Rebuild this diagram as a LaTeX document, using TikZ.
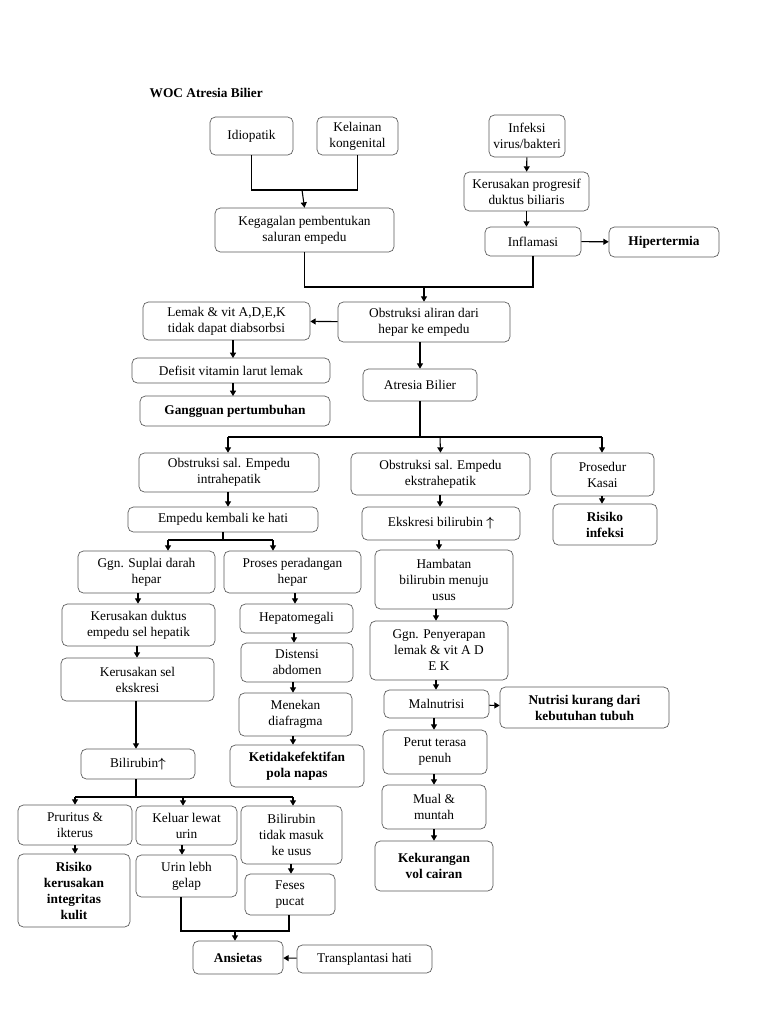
\documentclass[tikz,border=0pt]{standalone}
\usepackage{amsmath,amssymb}
\usepackage{fontspec}
\setmainfont{Liberation Serif}
\usepackage{tikz}
\usetikzlibrary{arrows.meta}

\newcommand{\wocbox}[7][]{%
  \node[BoxStyle,#1,
    minimum width  = {(#5-#3)*0.75pt},
    minimum height = {(#6-#4)*0.75pt}]
    (#2) at ({(#3+#5)/2},{(#4+#6)/2}) {#7};}

\begin{document}
\begin{tikzpicture}[x=0.75pt,y=-0.75pt]
  \tikzset{BoxStyle/.style = {
    shape          = rectangle,
    rounded corners= 4pt,
    draw           = black!65,
    fill           = white,
    line width     = 0.5pt,
    text           = black,
    align          = center,
    inner sep      = 1pt,
    font           = \fontsize{10}{12}\selectfont
    }
  }
  \tikzset{BoldStyle/.style = {font = \fontsize{10}{12}\selectfont\bfseries}}
  \tikzset{ArrowStyle/.style = {
    draw       = black,
    line width = 0.8pt,
    -{Triangle[length=4pt,width=4.5pt]}
    }
  }
  \tikzset{LineStyle/.style = {draw = black, line width = 0.8pt}}

  \useasboundingbox (0,0) rectangle (768,1024);
  \node[font=\fontsize{10}{12}\selectfont\bfseries, anchor=west] (title) at (145,93) {WOC Atresia Bilier};

  % top part
  \wocbox{idio}{210}{117}{293}{155}{Idiopatik}
  \wocbox{kong}{317}{117}{398}{155}{Kelainan\\kongenital}
  \wocbox{infek}{489}{115}{565}{157}{Infeksi\\virus/bakteri}
  \wocbox{progr}{464}{172}{589}{211}{Kerusakan progresif\\duktus biliaris}
  \wocbox{gagal}{215}{208}{394}{252}{Kegagalan pembentukan\\saluran empedu}
  \wocbox{infl}{485}{227}{581}{256}{Inflamasi}
  \wocbox[BoldStyle]{hiper}{609}{227}{719}{257}{Hipertermia}
  \wocbox{lemak}{143}{302}{310}{340}{Lemak \& vit A,D,E,K\\tidak dapat diabsorbsi}
  \wocbox{obs}{338}{302}{510}{342}{Obstruksi aliran dari\\hepar ke empedu}
  \wocbox{defisit}{132}{358}{330}{383}{Defisit vitamin larut lemak}
  \wocbox{atresia}{363}{369}{477}{401}{Atresia Bilier}
  \wocbox[BoldStyle]{tumbuh}{140}{396}{330}{426}{Gangguan pertumbuhan}

  % three branches
  \wocbox{intra}{139}{453}{319}{492}{Obstruksi sal. Empedu\\intrahepatik}
  \wocbox{ekstra}{351}{453}{530}{495}{Obstruksi sal. Empedu\\ekstrahepatik}
  \wocbox{kasai}{551}{453}{654}{496}{Prosedur\\Kasai}
  \wocbox{kembali}{128}{507}{318}{532}{Empedu kembali ke hati}
  \wocbox{ekskresi}{362}{507}{520}{540}{Ekskresi bilirubin $\boldsymbol{\uparrow}$}
  \wocbox[BoldStyle]{infeksi}{553}{504}{657}{545}{Risiko\\infeksi}

  % left column
  \wocbox{suplai}{78}{551}{215}{593}{Ggn. Suplai darah\\hepar}
  \wocbox{radang}{224}{551}{361}{593}{Proses peradangan\\hepar}
  \wocbox{duktus}{62}{604}{215}{646}{Kerusakan duktus\\empedu sel hepatik}
  \wocbox{hepato}{240}{604}{353}{633}{Hepatomegali}
  \wocbox{selek}{61}{658}{214}{701}{Kerusakan sel\\ekskresi}
  \wocbox{distensi}{241}{643}{353}{682}{Distensi\\abdomen}
  \wocbox{menekan}{239}{693}{352}{736}{Menekan\\diafragma}
  \wocbox[BoldStyle]{napas}{230}{745}{364}{787}{Ketidakefektifan\\pola napas}
  \wocbox{bili}{81}{749}{195}{779}{Bilirubin$\boldsymbol{\uparrow}$}
  \wocbox{pruritus}{18}{805}{132}{845}{Pruritus \&\\ikterus}
  \wocbox{keluar}{136}{806}{237}{845}{Keluar lewat\\urin}
  \wocbox{tdkmasuk}{241}{806}{342}{864}{Bilirubin\\tidak masuk\\ke usus}
  \wocbox[BoldStyle]{kulit}{18}{854}{130}{927}{Risiko\\kerusakan\\integritas\\kulit}
  \wocbox{urin}{136}{855}{237}{897}{Urin lebh\\gelap}
  \wocbox{feses}{245}{874}{335}{915}{Feses\\pucat}
  \wocbox[BoldStyle]{ansietas}{193}{941}{283}{974}{Ansietas}
  \wocbox{transpl}{297}{945}{432}{973}{Transplantasi hati}

  % right column
  \wocbox{hambat}{375}{550}{513}{609}{Hambatan\\bilirubin menuju\\usus}
  \wocbox{serap}{370}{621}{508}{680}{Ggn. Penyerapan\\lemak \& vit A D\\E K}
  \wocbox{maln}{384}{690}{489}{718}{Malnutrisi}
  \wocbox[BoldStyle]{nutrisi}{500}{687}{669}{728}{Nutrisi kurang dari\\kebutuhan tubuh}
  \wocbox{perut}{383}{730}{487}{774}{Perut terasa\\penuh}
  \wocbox{mual}{382}{785}{486}{829}{Mual \&\\muntah}
  \wocbox[BoldStyle]{cairan}{375}{841}{493}{891}{Kekurangan\\vol cairan}

  % junctions
  \coordinate (j1) at (302,190);
  \coordinate (j2) at (424,287);
  \coordinate (j3) at (420,437);
  \coordinate (j4) at (223,540);
  \coordinate (j5) at (136,797);
  \coordinate (j6) at (235,931);

  \draw[LineStyle] (idio.south) |- (j1) -| (kong.south);
  \draw[ArrowStyle] (j1) -- (gagal.north);
  \draw[ArrowStyle] (infek) -- (progr);
  \draw[ArrowStyle] (progr.south) -- (progr.south |- infl.north);
  \draw[ArrowStyle] (infl) -- (hiper);
  \draw[LineStyle] (gagal.south) |- (j2) -| (infl.south);
  \draw[ArrowStyle] (j2) -- (obs.north);
  \draw[ArrowStyle] (obs) -- (lemak);
  \draw[ArrowStyle] (lemak.south -| 233,0) -- (233,358);
  \draw[ArrowStyle] (defisit.south -| 233,0) -- (233,396);
  \draw[ArrowStyle] (obs.south -| atresia) -- (atresia.north);

  \draw[LineStyle] (atresia.south) -- (j3);
  \draw[LineStyle] (j3) -- (228,437) (j3) -- (602,437);
  \draw[ArrowStyle] (228,437) -- (intra.north -| 228,0);
  \draw[ArrowStyle] (440,437) -- (ekstra.north);
  \draw[ArrowStyle] (602,437) -- (kasai.north -| 602,0);
  \draw[ArrowStyle] (intra.south -| 228,0) -- (kembali.north -| 228,0);
  \draw[ArrowStyle] (kasai.south -| 602,0) -- (infeksi.north -| 602,0);
  \draw[ArrowStyle] (ekstra.south -| 440,0) -- (ekskresi.north -| 440,0);
  \draw[ArrowStyle] (ekskresi.south -| 439,0) -- (hambat.north -| 439,0);
  \draw[ArrowStyle] (hambat.south -| 436,0) -- (serap.north -| 436,0);
  \draw[ArrowStyle] (serap.south -| 436,0) -- (maln.north -| 436,0);
  \draw[ArrowStyle] (maln) -- (nutrisi);
  \draw[ArrowStyle] (maln.south -| 434,0) -- (perut.north -| 434,0);
  \draw[ArrowStyle] (perut.south -| 434,0) -- (mual.north -| 434,0);
  \draw[ArrowStyle] (mual.south -| 434,0) -- (cairan.north -| 434,0);

  \draw[LineStyle] (kembali.south -| j4) -- (j4);
  \draw[LineStyle] (168,540) -- (273,540);
  \draw[ArrowStyle] (168,540) -- (suplai.north -| 168,0);
  \draw[ArrowStyle] (273,540) -- (radang.north -| 273,0);
  \draw[ArrowStyle] (suplai.south -| 138,0) -- (duktus.north -| 138,0);
  \draw[ArrowStyle] (duktus.south -| 137,0) -- (selek.north -| 137,0);
  \draw[ArrowStyle] (selek.south -| 136,0) -- (bili.north -| 136,0);
  \draw[ArrowStyle] (radang.south -| 295,0) -- (hepato.north -| 295,0);
  \draw[ArrowStyle] (hepato.south -| 294,0) -- (distensi.north -| 294,0);
  \draw[ArrowStyle] (distensi.south -| 293,0) -- (menekan.north -| 293,0);
  \draw[ArrowStyle] (menekan.south -| 293,0) -- (napas.north -| 293,0);

  \draw[LineStyle] (bili.south -| j5) -- (j5);
  \draw[LineStyle] (75,797) -- (293,797);
  \draw[ArrowStyle] (75,797) -- (pruritus.north -| 75,0);
  \draw[ArrowStyle] (183,797) -- (keluar.north -| 183,0);
  \draw[ArrowStyle] (293,797) -- (tdkmasuk.north -| 293,0);
  \draw[ArrowStyle] (pruritus.south -| 75,0) -- (kulit.north -| 75,0);
  \draw[ArrowStyle] (keluar.south -| 182,0) -- (urin.north -| 182,0);
  \draw[ArrowStyle] (tdkmasuk.south -| 291,0) -- (feses.north -| 291,0);
  \draw[LineStyle] (urin.south -| 181,0) |- (j6) -| (feses.south -| 289,0);
  \draw[ArrowStyle] (j6) -- (ansietas.north -| j6);
  \draw[ArrowStyle] (transpl) -- (ansietas);
\end{tikzpicture}
\end{document}
